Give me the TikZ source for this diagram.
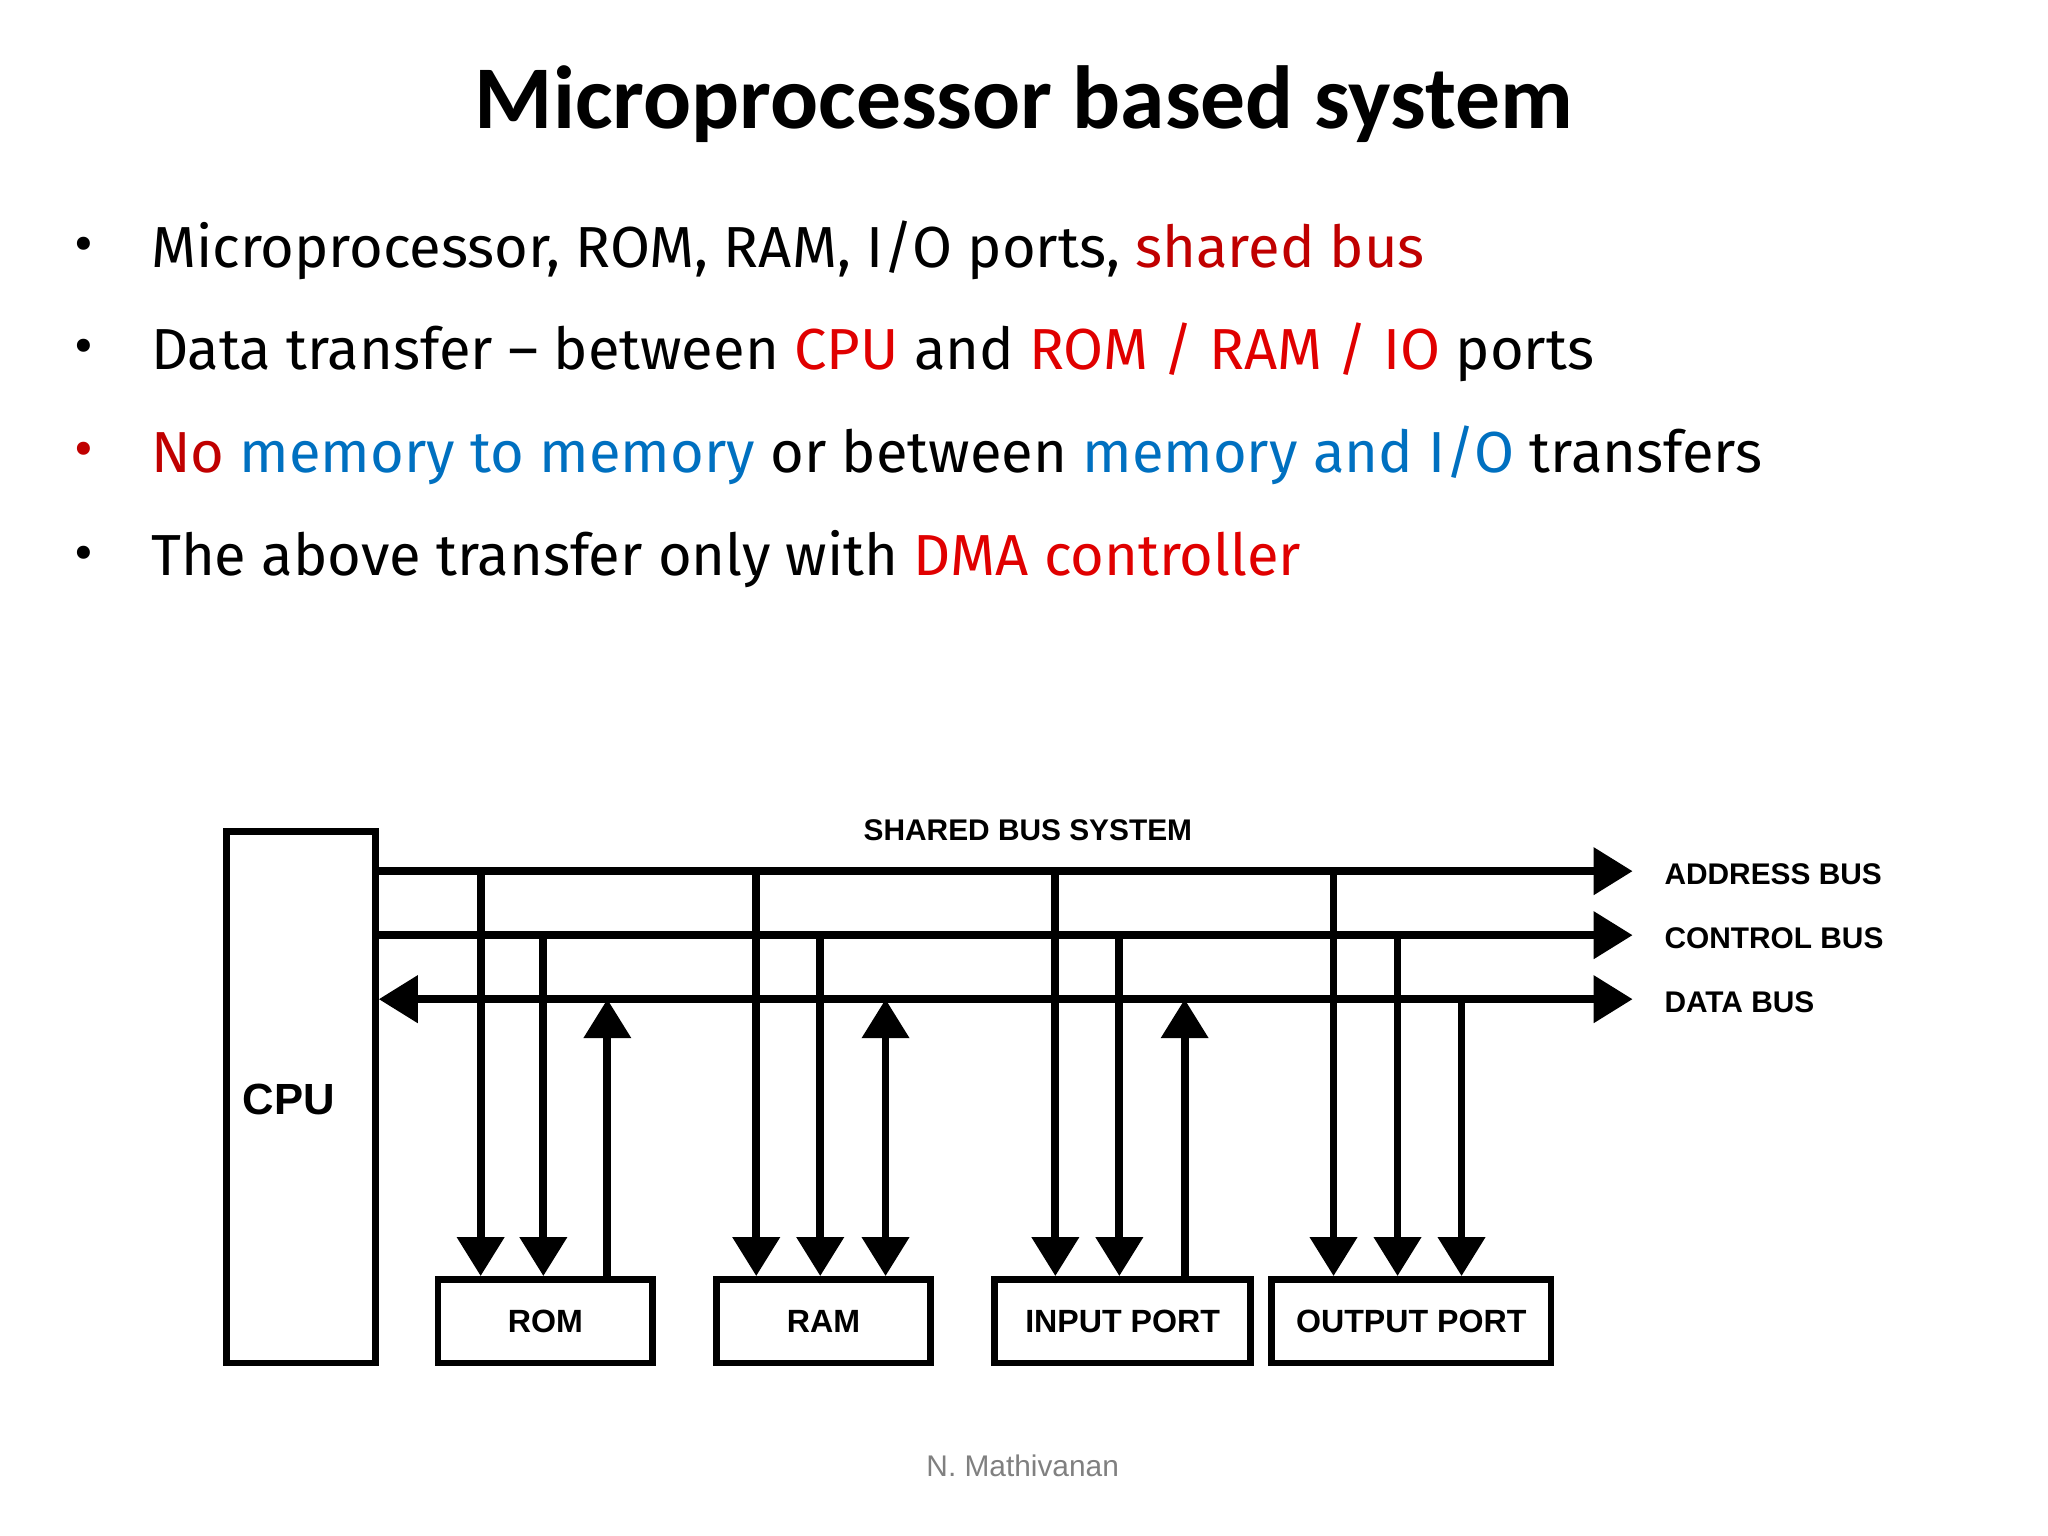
\documentclass[tikz,border=0pt]{standalone}
\usepackage{fontspec}
\setmainfont{Liberation Sans}
\newfontfamily\titlef{Carlito}
\newfontfamily\bodyf{Fira Sans}
\usetikzlibrary{arrows.meta}
\definecolor{dred}{HTML}{C00000}
\definecolor{rred}{HTML}{E00000}
\definecolor{bblue}{HTML}{0070C0}
\begin{document}
\begin{tikzpicture}[x=0.01cm,y=-0.01cm,
  bus/.style={line width=1.7pt},
  tip/.style={-{Triangle[length=8.5pt,width=10pt]}},
  dtip/.style={{Triangle[length=8.5pt,width=10pt]}-{Triangle[length=8.5pt,width=10pt]}},
  box/.style={draw,line width=1.4pt,minimum height=0.64cm,font=\bfseries\fontsize{7}{8}\selectfont,inner sep=0pt},
  lab/.style={font=\bfseries\fontsize{6.5}{7}\selectfont,anchor=west},
  bul/.style={anchor=base west,inner sep=0pt,font=\bodyf\fontsize{12.6}{15}\selectfont}]
\useasboundingbox (0,0) rectangle (1568,1176);
\node[font=\titlef\bfseries\fontsize{19.5}{22}\selectfont] (title) at (784,80) {Microprocessor based system};
\foreach \y/\c in {190/black,268/black,347/dred,426/black}
  \node[bul,text=\c] at (56,\y+12) {\textbullet};
\node[bul] (b1) at (115,205) {Microprocessor, ROM, RAM, I/O ports, \textcolor{dred}{shared bus}};
\node[bul] (b2) at (115,283) {Data transfer – between \textcolor{rred}{CPU} and \textcolor{rred}{ROM / RAM / IO} ports};
\node[bul] (b3) at (115,362) {\textcolor{dred}{No} \textcolor{bblue}{memory to memory} or between \textcolor{bblue}{memory and I/O} transfers};
\node[bul] (b4) at (115,441) {The above transfer only with \textcolor{rred}{DMA controller}};

\node[box,minimum width=1.14cm,minimum height=4.07cm,anchor=north west] (cpu) at (171,634) {};
\node[font=\bfseries\fontsize{9.5}{10}\selectfont] (cpul) at (221,842) {CPU};
\node[box,minimum width=1.64cm,anchor=north west] (rom) at (333,977) {ROM};
\node[box,minimum width=1.64cm,anchor=north west] (ram) at (546,977) {RAM};
\node[box,minimum width=1.96cm,anchor=north west] (inp) at (759,977) {INPUT PORT};
\node[box,minimum width=2.14cm,anchor=north west] (outp) at (971,977) {OUTPUT PORT};

\coordinate (ae) at (1250,667);
\coordinate (ce) at (1250,716);
\coordinate (de) at (1250,765);
\draw[bus,tip] (cpu.east |- ae) -- (ae);
\draw[bus,tip] (cpu.east |- ce) -- (ce);
\draw[bus,dtip] (cpu.east |- de) -- (de);

\node[font=\bfseries\fontsize{6.5}{7}\selectfont] (sbs) at (787,636) {SHARED BUS SYSTEM};
\node[lab] (al) at (1262,669) {ADDRESS BUS};
\node[lab] (cl) at (1262,718) {CONTROL BUS};
\node[lab] (dl) at (1262,767) {DATA BUS};

\foreach \x in {368,579,808,1021} \draw[bus,tip] (\x,667) -- (\x,977);
\foreach \x in {416,628,857,1070} \draw[bus,tip] (\x,716) -- (\x,977);
\foreach \x in {465,907} \draw[bus,tip] (\x,977) -- (\x,765);
\draw[bus,dtip] (678,765) -- (678,977);
\draw[bus,tip] (1119,765) -- (1119,977);

\node[text=gray,font=\fontsize{6.5}{7}\selectfont] (ft) at (783,1122) {N. Mathivanan};
\end{tikzpicture}
\end{document}
